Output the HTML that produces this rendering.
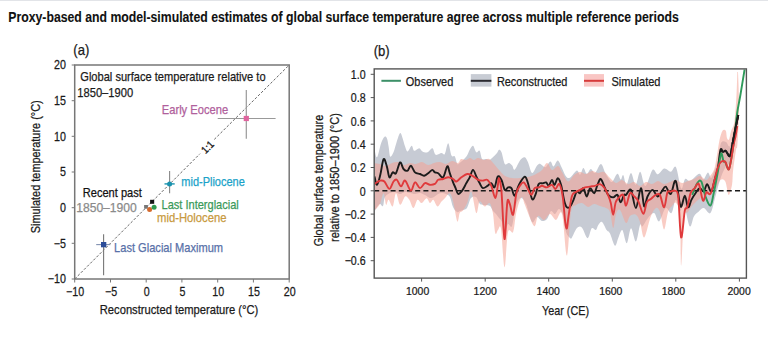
<!DOCTYPE html><html><head><meta charset="utf-8"><style>html,body{margin:0;padding:0;background:#fff;width:768px;height:338px;overflow:hidden}svg{display:block;font-family:"Liberation Sans",sans-serif}</style></head><body>
<svg width="768" height="338" viewBox="0 0 768 338">
<rect x="0" y="0" width="768" height="338" fill="#fff"/>
<rect x="0" y="0" width="768" height="1" fill="#e2e4e8"/>
<text x="8.3" y="22.4" font-size="14" fill="#111" text-anchor="start" font-weight="bold" textLength="670.5" lengthAdjust="spacingAndGlyphs"  stroke="#111" stroke-width="0.1">Proxy-based and model-simulated estimates of global surface temperature agree across multiple reference periods</text>
<text x="73.3" y="55.2" font-size="14.5" fill="#1a1a1a" text-anchor="start" textLength="16" lengthAdjust="spacingAndGlyphs"  stroke="#1a1a1a" stroke-width="0.25">(a)</text>
<line x1="74.7" y1="279.0" x2="200" y2="153.7" stroke="#666" stroke-width="1" stroke-dasharray="2.6,1.8"/>
<line x1="214.3" y1="139.4" x2="289.2" y2="65.0" stroke="#666" stroke-width="1" stroke-dasharray="2.6,1.8"/>
<rect x="74.7" y="65.0" width="214.5" height="214.0" fill="none" stroke="#777" stroke-width="1.5"/>
<line x1="71.7" y1="279.0" x2="74.7" y2="279.0" stroke="#777" stroke-width="1"/>
<line x1="74.7" y1="279.0" x2="74.7" y2="282.5" stroke="#777" stroke-width="1"/>
<text x="66" y="283.4" font-size="12.3" fill="#1a1a1a" text-anchor="end" transform="translate(66,0) scale(0.87,1) translate(-66,0)" stroke="#1a1a1a" stroke-width="0.25">&#8722;10</text>
<text x="75.2" y="295.6" font-size="12.3" fill="#1a1a1a" text-anchor="middle" transform="translate(75.2,0) scale(0.87,1) translate(-75.2,0)" stroke="#1a1a1a" stroke-width="0.25">&#8722;10</text>
<line x1="71.7" y1="243.3" x2="74.7" y2="243.3" stroke="#777" stroke-width="1"/>
<line x1="110.5" y1="279.0" x2="110.5" y2="282.5" stroke="#777" stroke-width="1"/>
<text x="66" y="247.7" font-size="12.3" fill="#1a1a1a" text-anchor="end" transform="translate(66,0) scale(0.87,1) translate(-66,0)" stroke="#1a1a1a" stroke-width="0.25">&#8722;5</text>
<text x="111.0" y="295.6" font-size="12.3" fill="#1a1a1a" text-anchor="middle" transform="translate(111.0,0) scale(0.87,1) translate(-111.0,0)" stroke="#1a1a1a" stroke-width="0.25">&#8722;5</text>
<line x1="71.7" y1="207.7" x2="74.7" y2="207.7" stroke="#777" stroke-width="1"/>
<line x1="146.2" y1="279.0" x2="146.2" y2="282.5" stroke="#777" stroke-width="1"/>
<text x="66" y="212.1" font-size="12.3" fill="#1a1a1a" text-anchor="end" transform="translate(66,0) scale(0.87,1) translate(-66,0)" stroke="#1a1a1a" stroke-width="0.25">0</text>
<text x="146.7" y="295.6" font-size="12.3" fill="#1a1a1a" text-anchor="middle" transform="translate(146.7,0) scale(0.87,1) translate(-146.7,0)" stroke="#1a1a1a" stroke-width="0.25">0</text>
<line x1="71.7" y1="172.0" x2="74.7" y2="172.0" stroke="#777" stroke-width="1"/>
<line x1="181.9" y1="279.0" x2="181.9" y2="282.5" stroke="#777" stroke-width="1"/>
<text x="66" y="176.4" font-size="12.3" fill="#1a1a1a" text-anchor="end" transform="translate(66,0) scale(0.87,1) translate(-66,0)" stroke="#1a1a1a" stroke-width="0.25">5</text>
<text x="182.4" y="295.6" font-size="12.3" fill="#1a1a1a" text-anchor="middle" transform="translate(182.4,0) scale(0.87,1) translate(-182.4,0)" stroke="#1a1a1a" stroke-width="0.25">5</text>
<line x1="71.7" y1="136.3" x2="74.7" y2="136.3" stroke="#777" stroke-width="1"/>
<line x1="217.7" y1="279.0" x2="217.7" y2="282.5" stroke="#777" stroke-width="1"/>
<text x="66" y="140.7" font-size="12.3" fill="#1a1a1a" text-anchor="end" transform="translate(66,0) scale(0.87,1) translate(-66,0)" stroke="#1a1a1a" stroke-width="0.25">10</text>
<text x="218.2" y="295.6" font-size="12.3" fill="#1a1a1a" text-anchor="middle" transform="translate(218.2,0) scale(0.87,1) translate(-218.2,0)" stroke="#1a1a1a" stroke-width="0.25">10</text>
<line x1="71.7" y1="100.7" x2="74.7" y2="100.7" stroke="#777" stroke-width="1"/>
<line x1="253.4" y1="279.0" x2="253.4" y2="282.5" stroke="#777" stroke-width="1"/>
<text x="66" y="105.1" font-size="12.3" fill="#1a1a1a" text-anchor="end" transform="translate(66,0) scale(0.87,1) translate(-66,0)" stroke="#1a1a1a" stroke-width="0.25">15</text>
<text x="253.9" y="295.6" font-size="12.3" fill="#1a1a1a" text-anchor="middle" transform="translate(253.9,0) scale(0.87,1) translate(-253.9,0)" stroke="#1a1a1a" stroke-width="0.25">15</text>
<line x1="71.7" y1="65.0" x2="74.7" y2="65.0" stroke="#777" stroke-width="1"/>
<line x1="289.2" y1="279.0" x2="289.2" y2="282.5" stroke="#777" stroke-width="1"/>
<text x="66" y="69.4" font-size="12.3" fill="#1a1a1a" text-anchor="end" transform="translate(66,0) scale(0.87,1) translate(-66,0)" stroke="#1a1a1a" stroke-width="0.25">20</text>
<text x="289.7" y="295.6" font-size="12.3" fill="#1a1a1a" text-anchor="middle" transform="translate(289.7,0) scale(0.87,1) translate(-289.7,0)" stroke="#1a1a1a" stroke-width="0.25">20</text>
<text x="0" y="0" font-size="12.7" fill="#1a1a1a" text-anchor="middle" textLength="133" lengthAdjust="spacingAndGlyphs" transform="translate(40.2,166.8) rotate(-90)" stroke="#1a1a1a" stroke-width="0.25">Simulated temperature (°C)</text>
<text x="99.8" y="314.2" font-size="12.7" fill="#1a1a1a" text-anchor="start" textLength="158.5" lengthAdjust="spacingAndGlyphs"  stroke="#1a1a1a" stroke-width="0.25">Reconstructed temperature (°C)</text>
<text x="80.3" y="80.6" font-size="12.7" fill="#1a1a1a" text-anchor="start" textLength="185.3" lengthAdjust="spacingAndGlyphs"  stroke="#1a1a1a" stroke-width="0.25">Global surface temperature relative to</text>
<text x="77.3" y="97.2" font-size="12.7" fill="#1a1a1a" text-anchor="start" textLength="55.8" lengthAdjust="spacingAndGlyphs"  stroke="#1a1a1a" stroke-width="0.25">1850–1900</text>
<line x1="217.7" y1="118.5" x2="275.6" y2="118.5" stroke="#999" stroke-width="1.2"/>
<line x1="246.3" y1="90" x2="246.3" y2="138.8" stroke="#999" stroke-width="1.2"/>
<rect x="243.7" y="115.9" width="5.2" height="5.2" fill="#e0649e"/>
<text x="161.8" y="113.9" font-size="12.7" fill="#b0609c" text-anchor="start" textLength="66.3" lengthAdjust="spacingAndGlyphs"  stroke="#b0609c" stroke-width="0.25">Early Eocene</text>
<text x="0" y="3.3" font-size="10.5" fill="#111" stroke="#111" stroke-width="0.3" text-anchor="middle" textLength="13" lengthAdjust="spacingAndGlyphs" transform="translate(207.8,147.4) rotate(-45)">1:1</text>
<line x1="164.5" y1="183.9" x2="174.7" y2="183.9" stroke="#2a9ab4" stroke-width="1.5"/>
<line x1="169.6" y1="171" x2="169.6" y2="193.2" stroke="#888" stroke-width="1.1"/>
<circle cx="169.6" cy="183.9" r="2.5" fill="#1a92ae"/>
<text x="181.3" y="186.3" font-size="12.7" fill="#1aa2c8" text-anchor="start" textLength="63.5" lengthAdjust="spacingAndGlyphs"  stroke="#1aa2c8" stroke-width="0.25">mid-Pliocene</text>
<text x="82.8" y="196.6" font-size="12.7" fill="#111" text-anchor="start" textLength="59" lengthAdjust="spacingAndGlyphs"  stroke="#111" stroke-width="0.25">Recent past</text>
<text x="76.2" y="212.2" font-size="13" fill="#8a8a8a" text-anchor="start" textLength="60.6" lengthAdjust="spacingAndGlyphs"  stroke="#8a8a8a" stroke-width="0.25">1850–1900</text>
<rect x="144.1" y="205" width="3.8" height="3.7" fill="#777"/>
<circle cx="149.6" cy="209.4" r="2.5" fill="#d46a2e"/>
<circle cx="154.1" cy="207.2" r="2.5" fill="#2f9a50"/>
<rect x="150.1" y="199.8" width="4.1" height="4" fill="#141414"/>
<text x="161.5" y="209.3" font-size="12.7" fill="#3a9a5a" text-anchor="start" textLength="77.3" lengthAdjust="spacingAndGlyphs"  stroke="#3a9a5a" stroke-width="0.25">Last Interglacial</text>
<text x="157" y="222.2" font-size="12.7" fill="#c89a40" text-anchor="start" textLength="69.5" lengthAdjust="spacingAndGlyphs"  stroke="#c89a40" stroke-width="0.25">mid-Holocene</text>
<line x1="96.2" y1="244.6" x2="110.4" y2="244.6" stroke="#8090b0" stroke-width="1.1"/>
<line x1="103.6" y1="234.2" x2="103.6" y2="275.2" stroke="#777" stroke-width="1.1"/>
<rect x="101" y="242" width="5.3" height="5.3" fill="#2c4d99"/>
<text x="114.1" y="252.3" font-size="12.7" fill="#5870a8" text-anchor="start" textLength="109" lengthAdjust="spacingAndGlyphs"  stroke="#5870a8" stroke-width="0.25">Last Glacial Maximum</text>
<text x="373.7" y="55.6" font-size="14.5" fill="#1a1a1a" text-anchor="start" textLength="16" lengthAdjust="spacingAndGlyphs"  stroke="#1a1a1a" stroke-width="0.25">(b)</text>
<defs><clipPath id="cb"><rect x="374.2" y="68.9" width="372.2" height="209.20000000000002"/></clipPath></defs>
<g clip-path="url(#cb)">
<path d="M374.3,148.2 C374.8,149.7 375.9,158.1 377.0,157.3 C378.1,156.5 379.9,146.6 381.1,143.2 C382.3,139.8 383.4,137.7 384.4,136.9 C385.4,136.1 386.2,136.6 386.9,138.2 C387.6,139.8 388.1,143.4 388.6,146.5 C389.2,149.6 389.4,155.5 390.2,156.5 C391.0,157.5 392.4,154.8 393.5,152.3 C394.6,149.8 395.7,144.8 396.8,141.6 C397.9,138.4 399.1,133.6 400.1,133.0 C401.1,132.4 401.8,135.9 402.6,138.2 C403.4,140.4 404.3,144.3 405.1,146.5 C405.9,148.7 406.5,151.6 407.6,151.5 C408.7,151.4 410.6,145.8 411.7,145.7 C412.8,145.6 412.9,150.3 414.2,150.7 C415.4,151.1 417.8,148.1 419.2,148.2 C420.6,148.3 421.1,150.8 422.5,151.5 C423.9,152.2 425.9,152.9 427.5,152.3 C429.1,151.8 431.0,147.8 432.4,148.2 C433.8,148.6 434.2,154.0 435.7,154.8 C437.2,155.6 440.0,153.2 441.5,153.1 C443.0,153.0 443.7,155.7 444.8,154.0 C445.9,152.3 447.1,142.9 448.2,143.2 C449.3,143.5 450.4,153.4 451.5,155.6 C452.6,157.8 453.8,155.1 454.8,156.5 C455.8,157.9 456.5,162.8 457.3,163.9 C458.1,165.0 458.2,164.3 459.7,163.1 C461.2,161.9 464.7,158.7 466.4,156.5 C468.1,154.3 468.6,151.6 469.7,149.8 C470.8,148.0 471.9,145.3 473.0,145.7 C474.1,146.1 475.2,151.5 476.3,152.3 C477.4,153.1 478.6,149.6 479.6,150.7 C480.6,151.8 481.0,157.5 482.1,158.9 C483.2,160.3 484.9,158.8 486.2,158.9 C487.4,159.1 488.5,160.1 489.6,159.8 C490.7,159.5 491.7,158.4 492.9,157.3 C494.1,156.2 496.0,154.3 497.0,153.1 C498.0,151.8 498.2,149.9 499.0,149.8 C499.8,149.7 500.5,150.0 501.5,152.3 C502.5,154.7 503.6,162.1 504.8,163.9 C506.0,165.7 507.7,162.8 508.9,163.1 C510.1,163.4 511.2,164.5 512.2,165.6 C513.2,166.7 513.3,170.7 514.7,169.7 C516.1,168.7 518.8,161.9 520.5,159.8 C522.2,157.7 523.5,156.9 524.7,157.3 C526.0,157.7 526.8,159.7 528.0,162.3 C529.2,164.9 530.6,172.4 532.1,173.0 C533.6,173.6 535.7,167.1 537.1,165.6 C538.5,164.1 539.0,163.6 540.4,163.9 C541.8,164.2 543.8,167.6 545.4,167.2 C547.0,166.8 548.9,161.5 550.3,161.4 C551.7,161.3 552.4,166.5 553.6,166.4 C554.9,166.3 556.4,160.3 557.8,160.6 C559.2,160.9 560.5,165.3 561.9,168.0 C563.3,170.7 564.7,174.9 566.1,176.5 C567.5,178.1 568.4,178.5 570.2,177.5 C572.0,176.5 575.1,171.0 576.8,170.5 C578.4,170.0 579.0,175.1 580.1,174.7 C581.2,174.3 582.3,168.2 583.4,168.0 C584.5,167.8 585.5,173.7 586.7,173.8 C588.0,174.0 589.5,169.0 590.9,168.9 C592.3,168.8 593.4,173.8 595.0,173.0 C596.6,172.2 599.1,164.0 600.8,163.9 C602.5,163.8 603.8,169.8 605.0,172.2 C606.2,174.5 607.1,176.4 608.3,178.0 C609.5,179.6 610.5,182.7 612.0,182.0 C613.5,181.3 615.9,174.2 617.4,173.8 C618.9,173.4 619.7,179.4 620.7,179.6 C621.7,179.8 622.2,174.2 623.2,175.0 C624.2,175.8 625.2,185.0 626.5,184.7 C627.8,184.4 629.5,173.0 631.0,173.0 C632.5,173.0 634.1,184.9 635.6,184.7 C637.1,184.5 638.6,171.5 640.2,171.7 C641.8,171.9 643.3,186.3 645.4,186.0 C647.5,185.7 650.5,171.8 652.6,169.8 C654.7,167.9 655.8,174.5 657.8,174.3 C659.8,174.1 662.1,168.9 664.3,168.5 C666.5,168.1 668.8,171.9 670.8,171.7 C672.8,171.5 674.3,164.4 676.0,167.2 C677.7,170.0 679.7,186.6 681.2,188.6 C682.7,190.6 683.6,180.2 685.1,178.9 C686.6,177.6 687.9,181.7 690.3,180.8 C692.7,179.9 697.2,173.9 699.4,173.7 C701.6,173.5 701.9,179.7 703.3,179.5 C704.7,179.3 706.6,172.7 707.9,172.4 C709.2,172.2 710.0,178.1 711.0,178.0 C712.0,177.9 712.8,175.0 714.0,172.0 C715.2,169.0 716.8,164.8 718.0,160.0 C719.2,155.2 719.7,146.0 721.0,143.0 C722.3,140.0 724.5,141.5 726.0,142.0 C727.5,142.5 728.7,148.3 730.0,146.0 C731.3,143.7 732.8,134.3 734.0,128.0 C735.2,121.7 736.9,111.3 737.5,108.0 L737.5,120.0 C736.9,124.7 735.2,141.0 734.0,148.0 C732.8,155.0 731.5,158.7 730.0,162.0 C728.5,165.3 726.7,165.0 725.0,168.0 C723.3,171.0 721.6,175.2 720.0,180.0 C718.4,184.8 717.0,191.0 715.4,196.5 C713.8,202.0 712.3,211.2 710.4,213.1 C708.5,215.0 705.7,208.4 703.8,208.1 C701.9,207.8 700.4,210.0 698.8,211.4 C697.1,212.8 695.4,213.9 693.9,216.4 C692.4,218.9 691.4,228.2 689.7,226.3 C688.1,224.4 685.6,207.6 684.0,205.0 C682.4,202.4 681.4,211.9 680.0,211.0 C678.6,210.1 677.1,199.5 675.7,199.8 C674.3,200.2 673.2,211.7 671.5,213.1 C669.8,214.5 667.8,206.7 665.7,208.1 C663.6,209.5 661.0,220.6 659.1,221.4 C657.2,222.2 656.0,213.7 654.1,213.1 C652.2,212.5 649.9,215.8 648.0,218.0 C646.1,220.2 643.9,225.1 642.6,226.3 C641.3,227.5 641.1,222.4 640.0,225.0 C638.9,227.6 637.4,241.0 635.9,241.6 C634.4,242.2 632.5,228.0 631.0,228.3 C629.5,228.6 628.2,242.9 626.8,243.2 C625.3,243.5 623.7,230.8 622.3,230.0 C620.9,229.2 619.4,235.6 618.2,238.2 C617.0,240.8 616.3,246.5 614.9,245.7 C613.5,244.9 611.3,235.9 609.9,233.3 C608.5,230.7 607.9,231.9 606.6,230.0 C605.3,228.1 603.4,222.8 602.0,222.0 C600.6,221.2 599.3,223.7 598.3,225.0 C597.3,226.3 597.0,229.4 595.9,230.0 C594.8,230.6 593.1,226.9 591.7,228.3 C590.3,229.7 589.2,238.3 587.6,238.2 C586.0,238.1 583.6,229.2 581.8,227.5 C580.0,225.8 578.4,226.7 576.8,228.3 C575.2,230.0 573.1,235.8 572.0,237.4 C570.9,239.0 571.0,238.9 570.0,238.0 C569.0,237.1 567.2,235.8 566.0,232.0 C564.8,228.2 564.2,218.8 563.0,215.0 C561.8,211.2 560.3,209.2 559.0,209.0 C557.7,208.8 556.3,213.7 555.0,214.0 C553.7,214.3 552.3,210.2 551.0,211.0 C549.7,211.8 548.5,217.3 547.0,219.0 C545.5,220.7 543.7,221.3 542.0,221.0 C540.3,220.7 538.7,216.8 537.0,217.0 C535.3,217.2 533.8,224.2 532.0,222.0 C530.2,219.8 527.8,208.0 526.0,204.0 C524.2,200.0 522.7,197.8 521.0,198.0 C519.3,198.2 517.5,200.3 516.0,205.0 C514.5,209.7 513.3,222.8 512.0,226.0 C510.7,229.2 509.2,223.0 508.0,224.0 C506.8,225.0 506.0,232.3 505.0,232.0 C504.0,231.7 503.0,224.3 502.0,222.0 C501.0,219.7 500.0,219.3 499.0,218.0 C498.0,216.7 497.0,215.2 496.0,214.0 C495.0,212.8 494.0,212.3 493.0,211.0 C492.0,209.7 491.3,207.0 490.0,206.0 C488.7,205.0 486.7,205.3 485.0,205.0 C483.3,204.7 481.5,205.3 480.0,204.0 C478.5,202.7 477.5,198.0 476.0,197.0 C474.5,196.0 472.5,196.2 471.0,198.0 C469.5,199.8 468.3,206.0 467.0,208.0 C465.7,210.0 464.2,209.5 463.0,210.0 C461.8,210.5 461.0,210.7 460.0,211.0 C459.0,211.3 458.2,212.7 457.0,212.0 C455.8,211.3 454.2,209.5 453.0,207.0 C451.8,204.5 451.2,199.2 450.0,197.0 C448.8,194.8 447.3,194.7 446.0,194.0 C444.7,193.3 443.3,193.0 442.0,193.0 C440.7,193.0 439.3,193.3 438.0,194.0 C436.7,194.7 435.3,196.3 434.0,197.0 C432.7,197.7 431.5,198.3 430.0,198.0 C428.5,197.7 426.7,195.8 425.0,195.0 C423.3,194.2 421.7,193.2 420.0,193.0 C418.3,192.8 416.7,194.0 415.0,194.0 C413.3,194.0 411.7,193.3 410.0,193.0 C408.3,192.7 406.7,191.8 405.0,192.0 C403.3,192.2 401.7,194.0 400.0,194.0 C398.3,194.0 396.7,192.2 395.0,192.0 C393.3,191.8 391.7,192.2 390.0,193.0 C388.3,193.8 386.2,194.8 385.0,197.0 C383.8,199.2 383.8,204.8 383.0,206.0 C382.2,207.2 381.0,203.8 380.0,204.0 C379.0,204.2 377.9,205.7 377.0,207.0 C376.1,208.3 374.8,211.2 374.3,212.0 Z" fill="#c7cbd4"/>
<path d="M374.3,163.0 C375.2,163.2 378.1,163.5 380.0,164.0 C381.9,164.5 384.0,166.2 386.0,166.0 C388.0,165.8 390.0,163.7 392.0,163.0 C394.0,162.3 396.0,161.7 398.0,162.0 C400.0,162.3 402.0,164.8 404.0,165.0 C406.0,165.2 408.0,163.2 410.0,163.0 C412.0,162.8 414.0,164.2 416.0,164.0 C418.0,163.8 420.0,161.8 422.0,162.0 C424.0,162.2 426.0,164.8 428.0,165.0 C430.0,165.2 432.0,163.5 434.0,163.0 C436.0,162.5 438.0,161.8 440.0,162.0 C442.0,162.2 444.0,164.2 446.0,164.0 C448.0,163.8 450.0,161.2 452.0,161.0 C454.0,160.8 456.5,163.3 458.0,163.0 C459.5,162.7 459.7,159.5 461.0,159.0 C462.3,158.5 464.5,160.2 466.0,160.0 C467.5,159.8 468.7,158.0 470.0,158.0 C471.3,158.0 472.7,160.0 474.0,160.0 C475.3,160.0 476.3,158.0 478.0,158.0 C479.7,158.0 482.2,159.8 484.0,160.0 C485.8,160.2 487.3,158.3 489.0,159.0 C490.7,159.7 492.3,162.2 494.0,164.0 C495.7,165.8 497.2,168.0 499.0,170.0 C500.8,172.0 502.8,174.7 505.0,176.0 C507.2,177.3 509.5,177.7 512.0,178.0 C514.5,178.3 517.3,178.2 520.0,178.0 C522.7,177.8 525.3,177.7 528.0,177.0 C530.7,176.3 533.7,175.2 536.0,174.0 C538.3,172.8 540.2,171.8 542.0,170.0 C543.8,168.2 545.3,163.0 547.0,163.0 C548.7,163.0 550.2,169.5 552.0,170.0 C553.8,170.5 556.3,165.7 558.0,166.0 C559.7,166.3 560.3,169.4 562.0,172.0 C563.7,174.6 566.0,181.0 568.0,181.5 C570.0,182.0 572.0,176.6 574.0,175.0 C576.0,173.4 578.0,172.2 580.0,172.0 C582.0,171.8 584.0,174.2 586.0,174.0 C588.0,173.8 590.0,171.2 592.0,171.0 C594.0,170.8 596.0,172.8 598.0,173.0 C600.0,173.2 602.0,171.2 604.0,172.0 C606.0,172.8 608.0,176.2 610.0,178.0 C612.0,179.8 614.0,182.7 616.0,183.0 C618.0,183.3 620.0,179.8 622.0,180.0 C624.0,180.2 626.0,183.7 628.0,184.0 C630.0,184.3 632.0,181.7 634.0,182.0 C636.0,182.3 638.0,186.0 640.0,186.0 C642.0,186.0 644.0,182.3 646.0,182.0 C648.0,181.7 650.0,184.2 652.0,184.0 C654.0,183.8 656.0,181.0 658.0,181.0 C660.0,181.0 662.0,183.8 664.0,184.0 C666.0,184.2 668.0,182.7 670.0,182.0 C672.0,181.3 674.0,179.8 676.0,180.0 C678.0,180.2 680.0,182.8 682.0,183.0 C684.0,183.2 686.0,181.7 688.0,181.0 C690.0,180.3 692.0,179.8 694.0,179.0 C696.0,178.2 698.0,175.8 700.0,176.0 C702.0,176.2 704.3,180.0 706.0,180.0 C707.7,180.0 708.6,177.8 710.0,176.0 C711.4,174.2 713.1,172.5 714.3,169.0 C715.5,165.5 716.1,159.8 717.0,155.0 C717.9,150.2 718.6,144.1 719.5,140.0 C720.4,135.9 721.5,132.2 722.5,130.7 C723.5,129.1 725.0,129.5 725.8,130.7 C726.5,131.9 726.5,136.5 727.0,138.0 C727.5,139.5 728.3,140.7 729.0,139.6 C729.7,138.5 730.1,134.2 731.0,131.2 C731.9,128.3 733.5,127.8 734.4,121.8 C735.3,115.8 736.0,103.3 736.5,95.0 C737.0,86.7 737.2,75.8 737.3,72.0 L738.0,72.0 C738.2,76.7 738.9,92.2 739.0,100.0 C739.1,107.8 739.1,111.3 738.8,118.9 C738.5,126.5 737.8,140.3 737.3,145.5 C736.8,150.7 736.7,145.8 736.0,150.0 C735.3,154.2 733.8,164.8 733.1,170.6 C732.4,176.4 732.8,180.9 732.0,185.0 C731.2,189.1 729.7,195.5 728.6,194.9 C727.5,194.3 726.7,184.1 725.3,181.6 C723.9,179.1 722.1,178.6 720.4,180.0 C718.7,181.4 716.7,187.7 715.0,190.0 C713.3,192.3 711.8,193.0 710.0,194.0 C708.2,195.0 706.0,195.0 704.0,196.0 C702.0,197.0 700.0,198.3 698.0,200.0 C696.0,201.7 693.7,204.0 692.0,206.0 C690.3,208.0 689.3,210.0 688.0,212.0 C686.7,214.0 685.1,209.1 684.0,218.0 C682.9,226.9 681.8,266.1 681.1,265.6 C680.4,265.1 680.9,225.4 680.0,215.0 C679.1,204.6 677.3,204.5 676.0,203.0 C674.7,201.5 673.3,204.5 672.0,206.0 C670.7,207.5 669.3,208.1 668.0,212.0 C666.7,215.9 665.4,229.6 664.1,229.6 C662.8,229.6 661.4,215.6 660.0,212.0 C658.6,208.4 657.5,207.3 656.0,208.0 C654.5,208.7 652.8,211.5 650.8,216.4 C648.8,221.3 646.0,236.5 644.2,237.4 C642.4,238.3 641.4,225.8 640.0,222.0 C638.6,218.2 637.6,215.7 635.9,214.7 C634.2,213.7 631.6,214.6 630.0,216.0 C628.4,217.4 627.7,224.0 626.0,223.0 C624.3,222.0 621.7,211.5 620.0,210.0 C618.3,208.5 617.1,211.0 616.0,214.0 C614.9,217.0 614.2,228.3 613.2,228.0 C612.2,227.7 611.2,215.3 610.0,212.0 C608.8,208.7 607.7,209.0 606.0,208.0 C604.3,207.0 602.0,206.7 600.0,206.0 C598.0,205.3 596.0,203.8 594.0,204.0 C592.0,204.2 590.0,207.2 588.0,207.0 C586.0,206.8 584.0,203.3 582.0,203.0 C580.0,202.7 577.8,203.5 576.0,205.0 C574.2,206.5 572.5,203.6 571.0,212.0 C569.5,220.4 568.4,255.3 566.9,255.6 C565.4,255.9 563.8,219.9 562.0,214.0 C560.2,208.1 558.0,220.0 556.0,220.0 C554.0,220.0 552.0,214.0 550.0,214.0 C548.0,214.0 546.0,219.7 544.0,220.0 C542.0,220.3 539.7,215.0 538.0,216.0 C536.3,217.0 536.2,227.8 534.0,226.0 C531.8,224.2 526.9,209.8 525.0,205.0 C523.1,200.2 523.3,198.2 522.5,197.4 C521.7,196.6 521.1,197.2 520.0,200.0 C518.9,202.8 517.1,208.7 516.0,214.0 C514.9,219.3 514.4,229.0 513.1,232.0 C511.8,235.0 509.4,226.1 508.0,232.0 C506.6,237.9 505.7,267.7 504.5,267.2 C503.3,266.7 502.1,235.2 501.0,229.0 C499.9,222.8 498.9,229.3 498.0,230.0 C497.1,230.7 496.2,236.1 495.3,233.3 C494.4,230.5 493.8,218.1 492.9,213.1 C491.9,208.1 491.0,204.2 489.6,203.1 C488.2,202.0 486.3,206.8 484.6,206.5 C482.9,206.2 481.0,200.4 479.6,201.5 C478.2,202.6 477.7,214.8 476.3,213.1 C474.9,211.4 472.8,193.3 471.3,191.6 C469.8,189.9 468.6,199.9 467.2,203.1 C465.8,206.3 464.2,208.9 463.0,210.6 C461.8,212.3 460.6,211.3 459.7,213.1 C458.8,214.9 458.4,223.3 457.3,221.4 C456.2,219.5 454.4,206.2 453.1,201.5 C451.9,196.8 451.2,193.8 449.8,193.2 C448.4,192.6 446.2,196.8 444.8,198.2 C443.4,199.6 442.7,200.1 441.5,201.5 C440.3,202.9 438.8,206.8 437.4,206.5 C436.0,206.2 434.5,200.4 433.3,199.8 C432.1,199.2 431.1,203.4 430.0,203.1 C428.9,202.8 428.0,198.2 426.6,198.2 C425.2,198.2 423.2,202.8 421.7,203.1 C420.2,203.4 418.9,199.0 417.5,199.8 C416.1,200.6 414.8,208.1 413.4,208.1 C412.0,208.1 410.7,201.7 409.3,199.8 C407.9,197.9 406.6,195.7 405.1,196.5 C403.6,197.3 401.6,205.4 400.1,204.8 C398.6,204.2 397.2,192.9 396.0,193.2 C394.8,193.5 393.9,205.4 392.7,206.5 C391.5,207.6 389.7,200.1 388.6,199.8 C387.5,199.5 386.9,205.9 386.1,204.8 C385.3,203.7 384.6,193.5 383.6,193.2 C382.6,192.9 381.4,200.6 380.3,203.1 C379.2,205.6 378.0,206.9 377.0,208.1 C376.0,209.2 374.8,209.7 374.3,210.0 Z" fill="#f4a294" fill-opacity="0.55"/>
<line x1="374.2" y1="190.8" x2="746.4" y2="190.8" stroke="#1a1a1a" stroke-width="1.4" stroke-dasharray="5,3.2"/>
<path d="M374.5,176.5 C374.9,177.9 376.0,185.1 377.0,184.8 C378.0,184.5 379.2,179.1 380.3,174.8 C381.4,170.5 382.5,160.5 383.6,159.1 C384.7,157.7 385.9,163.6 386.9,166.6 C387.9,169.6 388.4,176.3 389.4,177.3 C390.4,178.3 391.6,173.1 392.7,172.4 C393.8,171.7 394.8,174.9 396.0,173.2 C397.2,171.5 398.9,163.1 400.1,162.4 C401.4,161.7 402.2,167.6 403.5,169.0 C404.8,170.4 406.4,171.2 407.6,170.7 C408.8,170.1 409.7,165.4 410.9,165.7 C412.1,166.0 413.5,171.0 415.0,172.4 C416.5,173.8 418.5,173.4 420.0,174.0 C421.5,174.6 422.7,176.0 424.2,175.7 C425.7,175.4 427.7,173.4 429.1,172.4 C430.5,171.4 431.4,169.9 432.4,169.9 C433.4,169.9 433.9,171.9 434.9,172.4 C435.9,172.9 436.8,172.4 438.2,173.2 C439.6,174.0 441.7,178.5 443.2,177.3 C444.7,176.1 446.2,166.9 447.3,166.2 C448.4,165.5 448.8,170.5 449.8,173.2 C450.8,175.9 452.1,179.8 453.1,182.3 C454.1,184.8 454.8,186.2 455.6,188.1 C456.4,190.0 457.0,193.5 458.1,193.9 C459.2,194.3 460.8,192.4 462.2,190.6 C463.6,188.8 465.1,185.3 466.4,183.1 C467.6,180.9 468.6,179.5 469.7,177.3 C470.8,175.1 471.9,170.0 473.0,169.9 C474.1,169.8 475.2,174.3 476.3,176.5 C477.4,178.7 478.5,181.2 479.6,183.1 C480.7,185.0 481.5,187.7 482.9,188.1 C484.3,188.5 486.5,186.4 487.9,185.6 C489.3,184.8 490.1,182.8 491.2,183.1 C492.3,183.4 493.4,188.4 494.5,187.3 C495.6,186.2 496.6,177.7 497.8,176.5 C499.0,175.3 500.3,177.8 501.5,180.0 C502.7,182.2 503.7,188.7 504.8,189.9 C505.9,191.1 507.0,187.7 508.1,187.4 C509.2,187.1 510.3,186.8 511.4,188.2 C512.5,189.6 513.5,196.2 514.7,195.7 C516.0,195.1 517.2,188.1 518.9,184.9 C520.6,181.7 523.2,177.0 524.7,176.7 C526.2,176.4 526.8,179.6 528.0,183.3 C529.2,187.0 530.9,197.1 532.1,199.0 C533.3,200.9 534.3,197.4 535.4,194.9 C536.5,192.4 537.5,186.0 538.7,184.1 C540.0,182.2 541.6,183.6 542.9,183.3 C544.1,183.0 545.2,182.1 546.2,182.5 C547.2,182.9 547.7,186.2 548.7,185.8 C549.7,185.4 551.0,180.2 552.0,180.0 C553.0,179.8 553.5,185.2 554.5,184.9 C555.5,184.6 556.7,178.3 557.8,178.3 C558.9,178.3 560.0,181.0 561.1,184.9 C562.2,188.8 563.4,197.8 564.4,201.5 C565.4,205.2 565.9,206.5 566.9,207.3 C567.9,208.1 569.1,207.8 570.2,206.5 C571.3,205.2 572.4,202.3 573.5,199.8 C574.6,197.3 575.7,192.7 576.8,191.6 C577.9,190.5 579.0,193.8 580.1,193.2 C581.2,192.6 582.3,187.6 583.4,188.2 C584.5,188.8 585.6,196.5 586.7,196.5 C587.8,196.5 588.9,188.8 590.1,188.2 C591.4,187.6 593.0,193.8 594.2,193.2 C595.4,192.6 596.4,187.2 597.5,184.9 C598.6,182.6 599.5,178.6 600.8,179.1 C602.0,179.6 603.8,185.6 605.0,188.2 C606.2,190.8 606.9,193.4 608.3,194.9 C609.7,196.4 611.7,197.4 613.2,197.4 C614.7,197.4 616.1,194.1 617.4,194.9 C618.6,195.7 619.6,202.3 620.7,202.3 C621.8,202.3 623.1,196.1 624.0,194.9 C624.9,193.7 624.8,195.7 626.0,194.9 C627.2,194.1 629.4,187.7 631.0,189.9 C632.6,192.1 634.2,208.4 635.9,208.1 C637.5,207.8 639.5,188.5 640.9,188.2 C642.3,187.9 643.1,205.1 644.2,206.5 C645.3,207.9 646.1,199.3 647.5,196.5 C648.9,193.7 650.8,189.9 652.5,189.9 C654.2,189.9 656.0,196.2 657.5,196.5 C659.0,196.8 660.2,193.2 661.6,191.6 C663.0,189.9 664.2,186.2 665.7,186.6 C667.2,187.0 669.0,195.0 670.7,194.0 C672.4,193.0 674.1,178.7 675.7,180.8 C677.4,182.9 679.1,204.0 680.6,206.5 C682.1,209.0 683.5,195.6 684.8,195.7 C686.0,195.8 687.0,206.6 688.1,207.3 C689.2,208.0 690.2,202.2 691.4,199.8 C692.6,197.5 694.1,195.1 695.5,193.2 C696.9,191.3 698.3,188.5 699.7,188.2 C701.1,187.9 702.6,192.3 703.8,191.6 C705.0,190.9 705.9,184.1 707.1,184.1 C708.4,184.1 710.0,192.3 711.3,191.6 C712.5,190.9 713.5,183.9 714.6,180.0 C715.7,176.1 716.9,173.0 717.9,168.0 C718.9,163.0 719.6,152.5 720.5,149.8 C721.4,147.1 722.2,151.7 723.1,151.9 C724.0,152.1 724.6,150.2 725.7,150.9 C726.8,151.6 728.8,157.2 729.9,156.1 C731.0,154.9 731.7,148.0 732.5,144.0 C733.3,140.0 734.1,135.7 734.8,132.0 C735.5,128.3 736.2,124.8 736.8,122.0 C737.4,119.2 738.0,116.2 738.3,115.0" fill="none" stroke="#1c1c1c" stroke-width="1.9" stroke-linejoin="round"/>
<path d="M692.2,194.9 C693.0,193.0 695.7,185.5 697.2,183.3 C698.7,181.1 699.9,179.4 701.3,181.6 C702.7,183.8 704.0,192.5 705.5,196.5 C707.0,200.5 709.0,206.2 710.4,205.6 C711.8,205.0 712.4,198.9 713.7,193.2 C715.0,187.4 716.8,177.7 718.0,171.1 C719.2,164.5 720.2,155.1 721.1,153.5 C722.0,151.9 722.8,159.9 723.5,161.3 C724.2,162.7 724.4,160.5 725.2,161.8 C726.0,163.1 727.4,169.0 728.3,169.3 C729.2,169.6 729.6,167.6 730.4,163.6 C731.2,159.6 732.5,151.1 733.3,145.5 C734.1,139.9 734.5,135.6 735.2,130.0 C735.9,124.4 736.4,117.8 737.3,112.0 C738.2,106.2 739.2,102.1 740.4,95.0 C741.6,87.9 743.9,73.8 744.6,69.5" fill="none" stroke="#2e9a5a" stroke-width="1.9" stroke-linejoin="round"/>
<path d="M720.5,149.8 C720.9,150.2 722.2,151.7 723.1,151.9 C724.0,152.1 724.6,150.2 725.7,150.9 C726.8,151.6 728.8,157.2 729.9,156.1 C731.0,154.9 731.7,148.0 732.5,144.0 C733.3,140.0 734.1,135.7 734.8,132.0 C735.5,128.3 736.2,124.8 736.8,122.0 C737.4,119.2 738.0,116.2 738.3,115.0" fill="none" stroke="#1c1c1c" stroke-width="1.9" stroke-linejoin="round"/>
<path d="M374.5,183.9 C374.9,183.6 376.0,182.9 377.0,182.3 C378.0,181.8 379.1,180.7 380.3,180.6 C381.5,180.5 382.9,180.1 384.4,181.5 C385.9,182.9 387.9,188.9 389.4,188.9 C390.9,188.9 392.3,183.0 393.5,181.5 C394.7,180.0 395.6,179.0 396.8,179.8 C398.1,180.6 399.6,186.3 401.0,186.4 C402.4,186.5 403.5,179.9 405.1,180.6 C406.8,181.3 409.2,190.3 410.9,190.6 C412.5,190.9 413.5,182.7 415.0,182.3 C416.5,181.9 418.3,188.0 420.0,188.1 C421.7,188.2 423.4,183.6 425.0,183.1 C426.6,182.6 428.2,184.7 429.9,184.8 C431.5,184.9 433.5,184.7 434.9,183.9 C436.3,183.1 436.8,180.6 438.2,179.8 C439.6,179.0 441.5,179.4 443.2,179.0 C444.9,178.6 446.5,177.3 448.2,177.3 C449.9,177.3 451.7,178.3 453.1,179.0 C454.5,179.7 455.0,181.8 456.4,181.5 C457.8,181.2 459.6,178.6 461.4,177.3 C463.2,176.1 465.4,174.3 467.2,174.0 C469.0,173.7 470.4,174.7 472.2,175.7 C474.0,176.7 476.2,179.0 478.0,179.8 C479.8,180.6 481.4,180.6 482.9,180.6 C484.4,180.6 485.7,179.0 487.1,179.8 C488.5,180.6 489.8,182.6 491.2,185.6 C492.6,188.6 494.2,198.0 495.3,198.0 C496.4,198.0 497.2,188.9 497.8,185.6 C498.4,182.3 498.4,177.3 499.0,178.3 C499.6,179.3 500.6,181.5 501.5,191.6 C502.4,201.7 503.5,237.2 504.5,239.0 C505.5,240.8 506.4,208.1 507.3,202.3 C508.2,196.5 508.8,201.9 509.8,204.0 C510.8,206.1 512.0,216.5 513.1,214.7 C514.2,212.9 515.2,198.2 516.4,193.2 C517.6,188.2 519.3,186.7 520.5,184.9 C521.7,183.1 522.7,182.1 523.8,182.5 C524.9,182.9 525.9,185.3 527.1,187.4 C528.4,189.5 530.0,194.8 531.3,194.9 C532.5,195.0 533.4,189.4 534.6,188.2 C535.8,186.9 537.5,187.8 538.7,187.4 C539.9,187.0 540.6,185.8 542.0,185.8 C543.4,185.8 545.3,187.6 547.0,187.4 C548.7,187.2 550.6,184.6 552.0,184.9 C553.4,185.2 554.1,189.2 555.3,189.1 C556.5,189.0 558.2,182.9 559.4,184.1 C560.6,185.3 561.7,190.2 562.7,196.5 C563.7,202.8 564.5,216.9 565.2,222.2 C565.9,227.5 566.4,229.3 566.9,228.3 C567.4,227.3 567.7,221.7 568.5,216.4 C569.3,211.1 570.7,200.5 571.8,196.5 C572.9,192.5 573.8,193.5 575.2,192.4 C576.6,191.3 578.5,190.7 580.1,189.9 C581.8,189.1 583.4,188.0 585.1,187.4 C586.8,186.8 588.5,186.9 590.1,186.6 C591.8,186.3 593.4,186.2 595.0,185.8 C596.6,185.4 598.5,183.8 600.0,184.1 C601.5,184.4 602.7,185.5 604.1,187.4 C605.5,189.3 607.2,193.1 608.3,195.7 C609.4,198.3 610.0,199.9 610.8,203.1 C611.6,206.3 612.4,214.8 613.2,214.7 C614.0,214.6 614.7,205.2 615.7,202.3 C616.7,199.4 617.8,198.6 619.0,197.4 C620.2,196.2 622.0,193.5 623.2,194.9 C624.4,196.3 624.9,205.9 626.0,205.6 C627.1,205.3 628.7,194.7 630.1,193.2 C631.5,191.7 632.9,195.1 634.3,196.5 C635.7,197.9 636.9,198.6 638.4,201.5 C639.9,204.4 642.0,213.8 643.4,213.9 C644.8,214.0 645.5,204.8 646.7,202.3 C647.9,199.8 649.3,200.2 650.8,199.0 C652.3,197.8 654.3,195.6 655.8,194.9 C657.3,194.2 658.5,192.8 659.9,194.9 C661.3,197.0 662.9,207.7 664.1,207.3 C665.4,206.9 666.3,195.0 667.4,192.4 C668.5,189.8 669.5,191.9 670.7,191.6 C671.9,191.3 673.5,189.9 674.8,190.7 C676.0,191.5 677.2,188.7 678.2,196.5 C679.2,204.3 680.0,235.1 681.1,237.4 C682.2,239.8 683.8,215.6 684.8,210.6 C685.8,205.6 686.3,210.2 687.3,207.3 C688.3,204.4 689.4,196.4 690.6,193.2 C691.8,190.0 693.3,189.7 694.7,188.2 C696.1,186.7 697.4,182.0 698.8,184.1 C700.2,186.2 701.8,199.3 703.0,200.7 C704.2,202.1 705.1,193.5 706.3,192.4 C707.5,191.3 709.2,195.5 710.4,194.0 C711.6,192.5 712.6,187.3 713.7,183.3 C714.8,179.3 715.9,173.5 717.0,170.0 C718.1,166.5 719.1,163.7 720.5,162.3 C721.9,160.9 723.9,160.6 725.2,161.8 C726.5,163.0 727.4,169.2 728.3,169.5 C729.2,169.8 729.5,167.9 730.4,163.8 C731.3,159.8 732.6,149.8 733.5,145.2 C734.4,140.6 735.0,139.2 735.6,136.0 C736.2,132.8 737.0,127.7 737.3,126.0" fill="none" stroke="#e03a3c" stroke-width="1.9" stroke-linejoin="round"/>
<path d="M732.5,144.0 C732.9,142.0 734.1,135.7 734.8,132.0 C735.5,128.3 736.2,124.8 736.8,122.0 C737.4,119.2 738.0,116.2 738.3,115.0" fill="none" stroke="#1c1c1c" stroke-width="1.9" stroke-linejoin="round"/>
</g>
<rect x="374.2" y="68.9" width="372.2" height="209.20000000000002" fill="none" stroke="#555" stroke-width="1.4"/>
<line x1="370.7" y1="74.3" x2="374.2" y2="74.3" stroke="#555" stroke-width="1"/>
<text x="365.6" y="79.1" font-size="12.5" fill="#1a1a1a" text-anchor="end" transform="translate(365.6,0) scale(0.85,1) translate(-365.6,0)" stroke="#1a1a1a" stroke-width="0.25">1.0</text>
<line x1="370.7" y1="97.6" x2="374.2" y2="97.6" stroke="#555" stroke-width="1"/>
<text x="365.6" y="102.4" font-size="12.5" fill="#1a1a1a" text-anchor="end" transform="translate(365.6,0) scale(0.85,1) translate(-365.6,0)" stroke="#1a1a1a" stroke-width="0.25">0.8</text>
<line x1="370.7" y1="120.9" x2="374.2" y2="120.9" stroke="#555" stroke-width="1"/>
<text x="365.6" y="125.7" font-size="12.5" fill="#1a1a1a" text-anchor="end" transform="translate(365.6,0) scale(0.85,1) translate(-365.6,0)" stroke="#1a1a1a" stroke-width="0.25">0.6</text>
<line x1="370.7" y1="144.2" x2="374.2" y2="144.2" stroke="#555" stroke-width="1"/>
<text x="365.6" y="149.0" font-size="12.5" fill="#1a1a1a" text-anchor="end" transform="translate(365.6,0) scale(0.85,1) translate(-365.6,0)" stroke="#1a1a1a" stroke-width="0.25">0.4</text>
<line x1="370.7" y1="167.5" x2="374.2" y2="167.5" stroke="#555" stroke-width="1"/>
<text x="365.6" y="172.3" font-size="12.5" fill="#1a1a1a" text-anchor="end" transform="translate(365.6,0) scale(0.85,1) translate(-365.6,0)" stroke="#1a1a1a" stroke-width="0.25">0.2</text>
<line x1="370.7" y1="190.8" x2="374.2" y2="190.8" stroke="#555" stroke-width="1"/>
<text x="365.6" y="195.6" font-size="12.5" fill="#1a1a1a" text-anchor="end" transform="translate(365.6,0) scale(0.85,1) translate(-365.6,0)" stroke="#1a1a1a" stroke-width="0.25">0</text>
<line x1="370.7" y1="214.1" x2="374.2" y2="214.1" stroke="#555" stroke-width="1"/>
<text x="365.6" y="218.9" font-size="12.5" fill="#1a1a1a" text-anchor="end" transform="translate(365.6,0) scale(0.85,1) translate(-365.6,0)" stroke="#1a1a1a" stroke-width="0.25">&#8722;0.2</text>
<line x1="370.7" y1="237.4" x2="374.2" y2="237.4" stroke="#555" stroke-width="1"/>
<text x="365.6" y="242.2" font-size="12.5" fill="#1a1a1a" text-anchor="end" transform="translate(365.6,0) scale(0.85,1) translate(-365.6,0)" stroke="#1a1a1a" stroke-width="0.25">&#8722;0.4</text>
<line x1="370.7" y1="260.7" x2="374.2" y2="260.7" stroke="#555" stroke-width="1"/>
<text x="365.6" y="265.5" font-size="12.5" fill="#1a1a1a" text-anchor="end" transform="translate(365.6,0) scale(0.85,1) translate(-365.6,0)" stroke="#1a1a1a" stroke-width="0.25">&#8722;0.6</text>
<line x1="421.6" y1="278.1" x2="421.6" y2="281.6" stroke="#555" stroke-width="1"/>
<text x="417.6" y="294.8" font-size="11.6" fill="#1a1a1a" text-anchor="middle" transform="translate(417.6,0) scale(0.9,1) translate(-417.6,0)" stroke="#1a1a1a" stroke-width="0.25">1000</text>
<line x1="485.2" y1="278.1" x2="485.2" y2="281.6" stroke="#555" stroke-width="1"/>
<text x="485.2" y="294.8" font-size="11.6" fill="#1a1a1a" text-anchor="middle" transform="translate(485.2,0) scale(0.9,1) translate(-485.2,0)" stroke="#1a1a1a" stroke-width="0.25">1200</text>
<line x1="548.7" y1="278.1" x2="548.7" y2="281.6" stroke="#555" stroke-width="1"/>
<text x="548.2" y="294.8" font-size="11.6" fill="#1a1a1a" text-anchor="middle" transform="translate(548.2,0) scale(0.9,1) translate(-548.2,0)" stroke="#1a1a1a" stroke-width="0.25">1400</text>
<line x1="612.3" y1="278.1" x2="612.3" y2="281.6" stroke="#555" stroke-width="1"/>
<text x="610.8" y="294.8" font-size="11.6" fill="#1a1a1a" text-anchor="middle" transform="translate(610.8,0) scale(0.9,1) translate(-610.8,0)" stroke="#1a1a1a" stroke-width="0.25">1600</text>
<line x1="675.8" y1="278.1" x2="675.8" y2="281.6" stroke="#555" stroke-width="1"/>
<text x="673.4" y="294.8" font-size="11.6" fill="#1a1a1a" text-anchor="middle" transform="translate(673.4,0) scale(0.9,1) translate(-673.4,0)" stroke="#1a1a1a" stroke-width="0.25">1800</text>
<line x1="739.4" y1="278.1" x2="739.4" y2="281.6" stroke="#555" stroke-width="1"/>
<text x="739.1" y="294.8" font-size="11.6" fill="#1a1a1a" text-anchor="middle" transform="translate(739.1,0) scale(0.9,1) translate(-739.1,0)" stroke="#1a1a1a" stroke-width="0.25">2000</text>
<text x="542" y="315" font-size="12.7" fill="#1a1a1a" text-anchor="start" textLength="47" lengthAdjust="spacingAndGlyphs"  stroke="#1a1a1a" stroke-width="0.25">Year (CE)</text>
<text x="0" y="0" font-size="13.3" fill="#1a1a1a" text-anchor="middle" textLength="131.5" lengthAdjust="spacingAndGlyphs" transform="translate(322.8,180.5) rotate(-90)" stroke="#1a1a1a" stroke-width="0.25">Global surface temperature</text>
<text x="0" y="0" font-size="13.3" fill="#1a1a1a" text-anchor="middle" textLength="129" lengthAdjust="spacingAndGlyphs" transform="translate(339.3,177.5) rotate(-90)" stroke="#1a1a1a" stroke-width="0.25">relative to 1850–1900 (°C)</text>
<line x1="381.4" y1="80.8" x2="400.9" y2="80.8" stroke="#3d9068" stroke-width="2"/>
<text x="405.8" y="85.8" font-size="13" fill="#1a1a1a" text-anchor="start" textLength="47.5" lengthAdjust="spacingAndGlyphs"  stroke="#1a1a1a" stroke-width="0.25">Observed</text>
<rect x="470.8" y="74.1" width="20.6" height="12.5" fill="#c8ccd4"/>
<line x1="470.8" y1="80.8" x2="491.4" y2="80.8" stroke="#2a2a30" stroke-width="2"/>
<text x="496.9" y="85.8" font-size="13" fill="#1a1a1a" text-anchor="start" textLength="70.5" lengthAdjust="spacingAndGlyphs"  stroke="#1a1a1a" stroke-width="0.25">Reconstructed</text>
<rect x="584" y="74.1" width="20" height="12.5" fill="#f9c6c4"/>
<line x1="584" y1="80.8" x2="604" y2="80.8" stroke="#d63a3a" stroke-width="2"/>
<text x="611.5" y="85.8" font-size="13" fill="#1a1a1a" text-anchor="start" textLength="49" lengthAdjust="spacingAndGlyphs"  stroke="#1a1a1a" stroke-width="0.25">Simulated</text>
</svg></body></html>
